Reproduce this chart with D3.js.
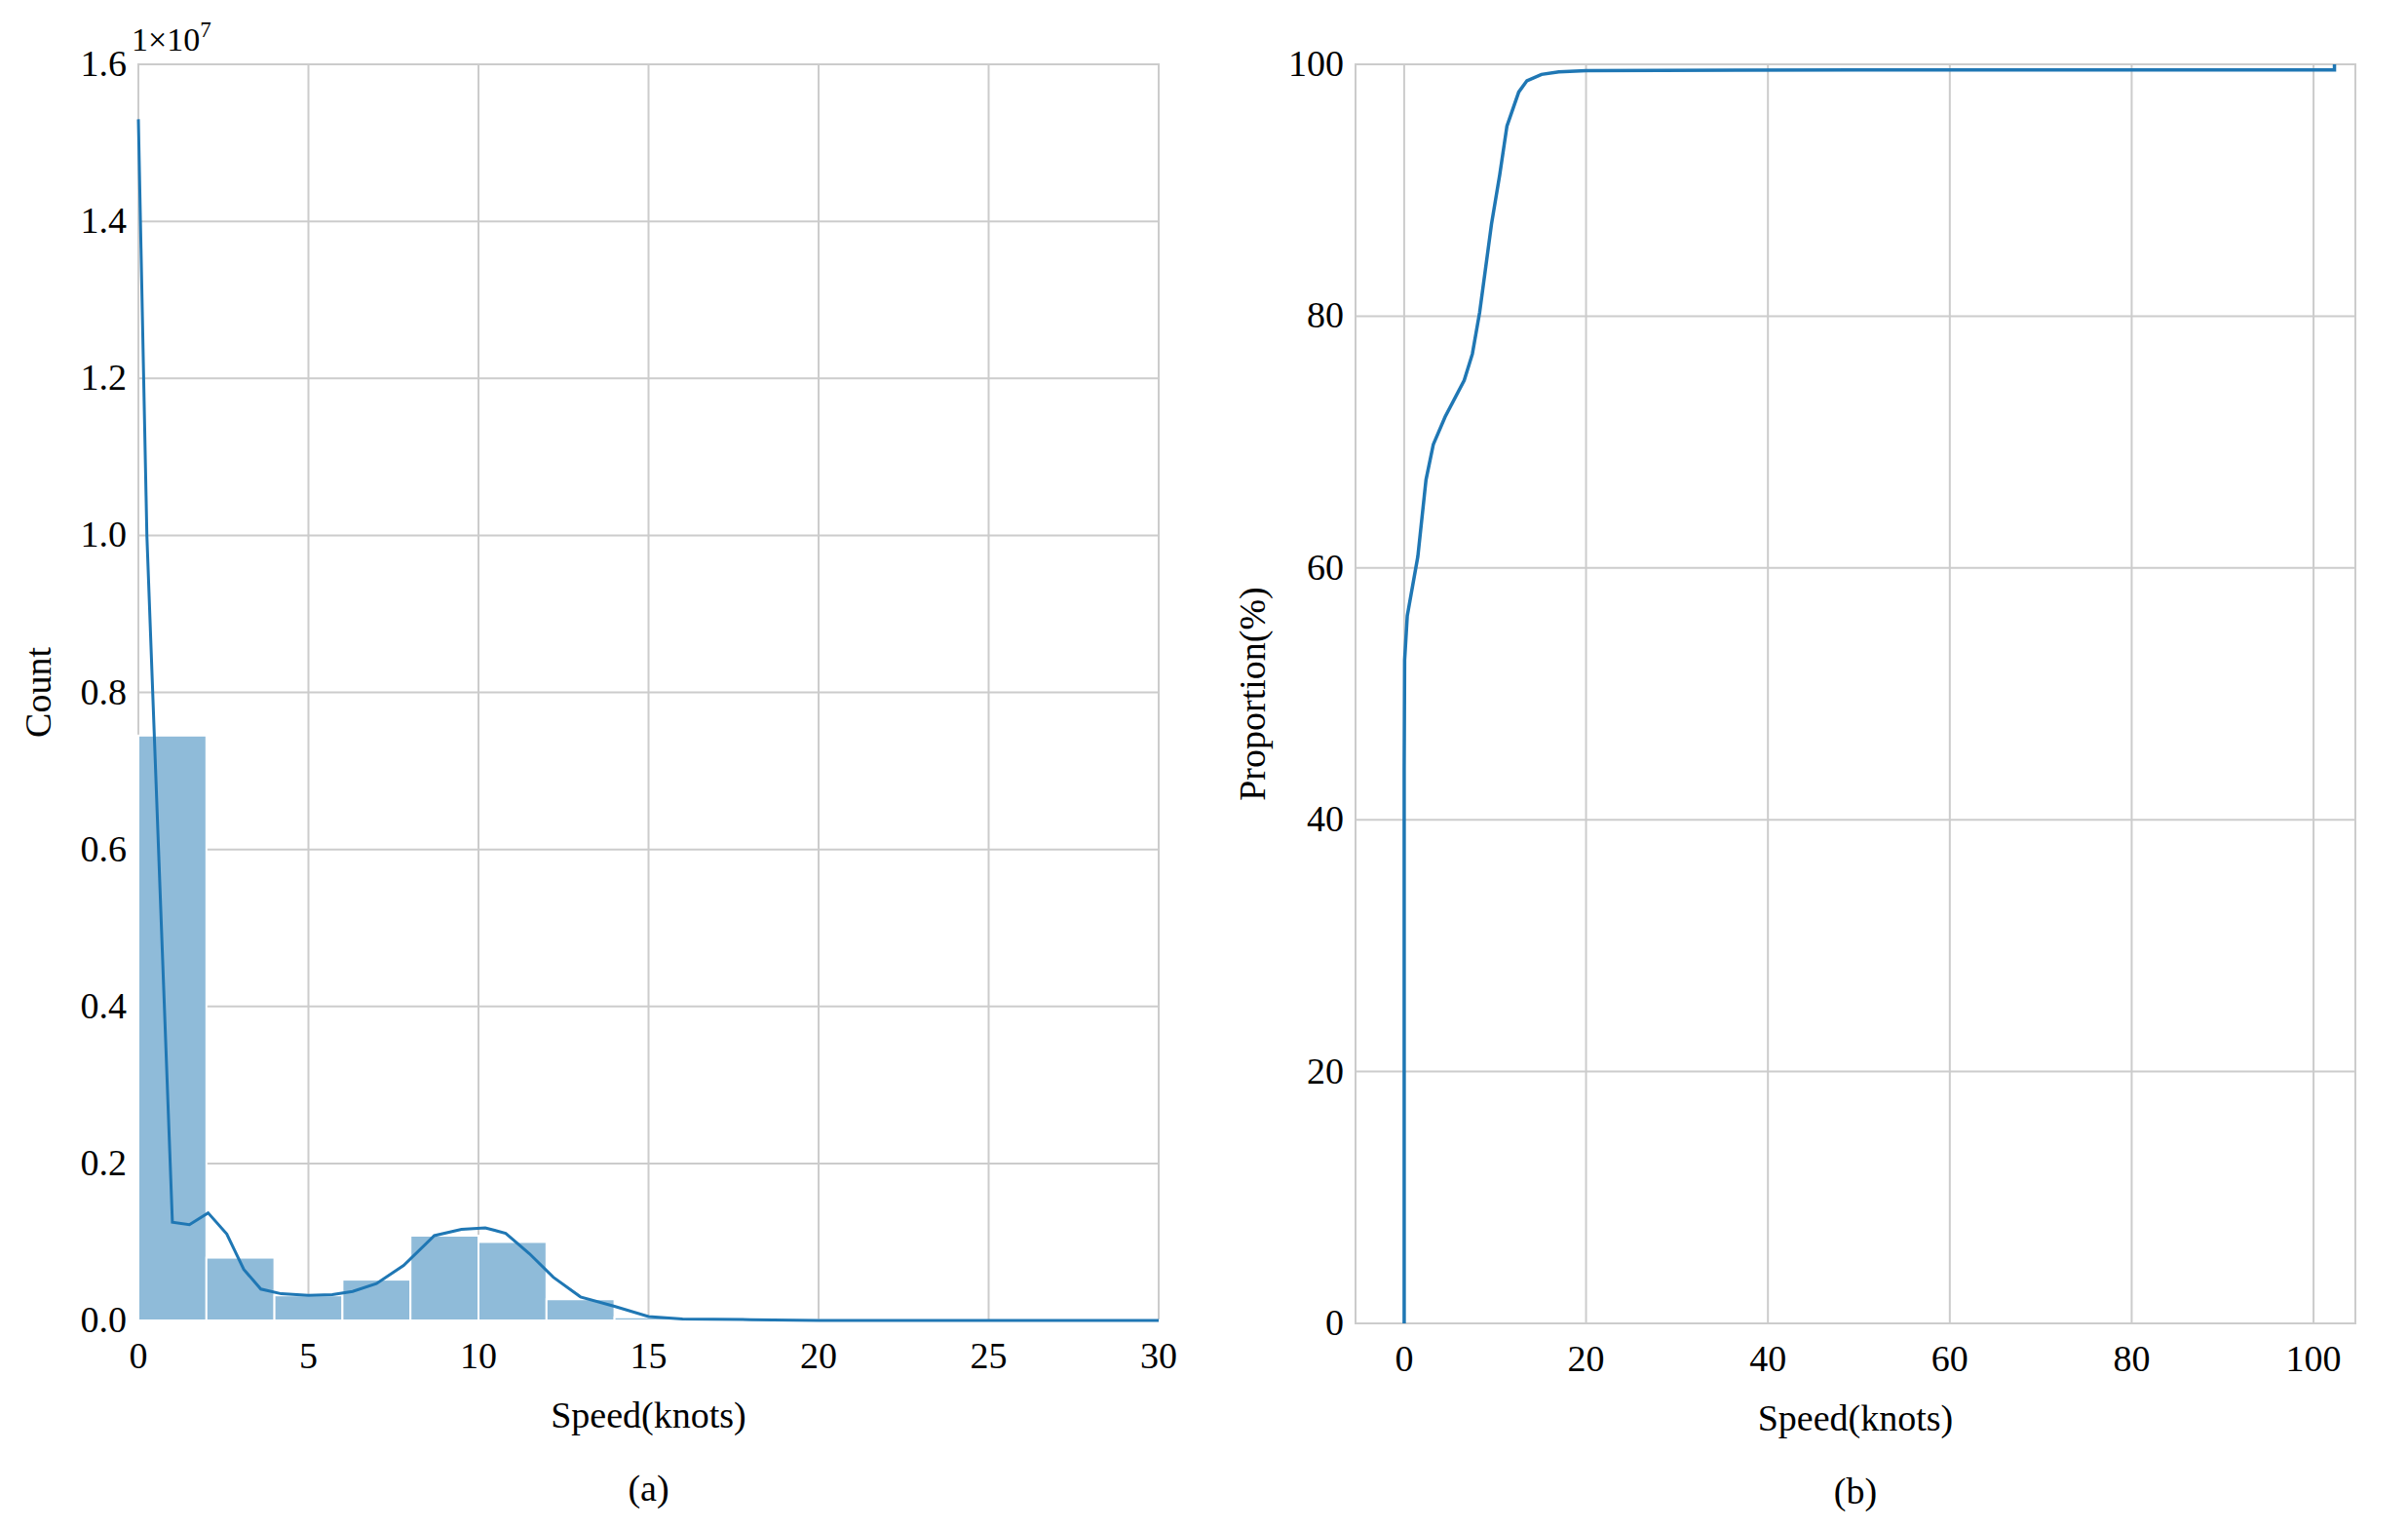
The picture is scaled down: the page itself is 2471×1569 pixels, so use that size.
<!DOCTYPE html><html><head><meta charset="utf-8">
<script src="https://cdn.jsdelivr.net/npm/d3@7"></script>
<style>body{margin:0;background:#fff}text{font-family:"Liberation Serif","Times New Roman",serif;fill:#000}</style>
</head><body><svg id="c" width="2471" height="1569"></svg><script>
const binEdges=[0,2,4,6,8,10,12,14,16,18,20,22,24,26,28];
const binCounts=[0.745,0.080,0.032,0.052,0.108,0.100,0.027,0.004,0.001,0.0005,0.0003,0.0002,0.0001,0.0001,0.0001];
const kdeX=[0,0.25,1.0,1.5,2.05,2.6,3.1,3.6,4.2,5,5.7,6.3,7,7.8,8.7,9.5,10.2,10.8,11.5,12.2,13,14,15,16,18,20,30];
const kdeY=[1.53,1.0,0.125,0.122,0.137,0.11,0.065,0.04,0.034,0.032,0.033,0.037,0.047,0.07,0.108,0.116,0.118,0.111,0.085,0.055,0.03,0.018,0.005,0.002,0.001,0,0];
const cdfX=[0,0,0.05,0.34,1.5,2.4,3.2,4.5,6.6,7.5,8.3,9.6,10.5,11.3,12.6,13.5,15.1,17,20,50,102.3,102.3];
const cdfY=[0,44,52.7,56.2,60.9,67,69.8,72,74.9,77,80.3,87.3,91.2,95.1,97.8,98.7,99.2,99.4,99.5,99.55,99.55,100];
const leftTicksX=[0,5,10,15,20,25,30], leftTicksY=[0,0.2,0.4,0.6,0.8,1.0,1.2,1.4,1.6];
const rightTicksX=[0,20,40,60,80,100], rightTicksY=[0,20,40,60,80,100];
const svg=d3.select("#c");const blue="#1f77b4",grid="#cccccc",fs=38;
function panel(x0,x1,y0,y1,xd,yd,xt,yt,yfmt,xlab,ylab,cap,ylabX){
  const g=svg.append("g");
  const x=d3.scaleLinear().domain(xd).range([x0,x1]),y=d3.scaleLinear().domain(yd).range([y1,y0]);
  xt.forEach(t=>g.append("line").attr("x1",x(t)).attr("x2",x(t)).attr("y1",y0).attr("y2",y1).attr("stroke",grid).attr("stroke-width",2));
  yt.forEach(t=>g.append("line").attr("x1",x0).attr("x2",x1).attr("y1",y(t)).attr("y2",y(t)).attr("stroke",grid).attr("stroke-width",2));
  g.append("rect").attr("x",x0).attr("y",y0).attr("width",x1-x0).attr("height",y1-y0).attr("fill","none").attr("stroke",grid).attr("stroke-width",2);
  xt.forEach(t=>g.append("text").attr("x",x(t)).attr("y",y1+49).attr("text-anchor","middle").attr("font-size",fs).text(t));
  yt.forEach(t=>g.append("text").attr("x",x0-12).attr("y",y(t)+12).attr("text-anchor","end").attr("font-size",fs).text(yfmt(t)));
  g.append("text").attr("x",(x0+x1)/2).attr("y",y1+110).attr("text-anchor","middle").attr("font-size",fs).text(xlab);
  g.append("text").attr("x",(x0+x1)/2).attr("y",y1+185).attr("text-anchor","middle").attr("font-size",fs).text(cap);
  g.append("text").attr("transform",`translate(${ylabX},${(y0+y1)/2}) rotate(-90)`).attr("text-anchor","middle").attr("font-size",fs).text(ylab);
  return {g,x,y};
}
const L=panel(142,1189,66,1355,[0,30],[0,1.6],leftTicksX,leftTicksY,d3.format(".1f"),"Speed(knots)","Count","(a)",52);
L.g.selectAll("rect.bar").data(binCounts).join("rect").attr("class","bar")
 .attr("x",(d,i)=>L.x(binEdges[i])).attr("width",(d,i)=>L.x(binEdges[i]+2)-L.x(binEdges[i]))
 .attr("y",d=>L.y(d)).attr("height",d=>L.y(0)-L.y(d)).attr("fill","#8fbbd9").attr("stroke","#fff").attr("stroke-width",2);
L.g.append("path").attr("d",d3.line().x((d,i)=>L.x(kdeX[i])).y(d=>L.y(d))(kdeY)).attr("fill","none").attr("stroke",blue).attr("stroke-width",3);
const tt=L.g.append("text").attr("x",135).attr("y",52).attr("font-size",34).text("1×10");
tt.append("tspan").attr("dy",-14).attr("font-size",23).text("7");
const R=panel(1391,2417,66,1358,[-5.35,104.6],[0,100],rightTicksX,rightTicksY,d=>d,"Speed(knots)","Proportion(%)","(b)",1298);
R.g.append("path").attr("d",d3.line().x((d,i)=>R.x(cdfX[i])).y(d=>R.y(d))(cdfY)).attr("fill","none").attr("stroke",blue).attr("stroke-width",3.5);
</script></body></html>
